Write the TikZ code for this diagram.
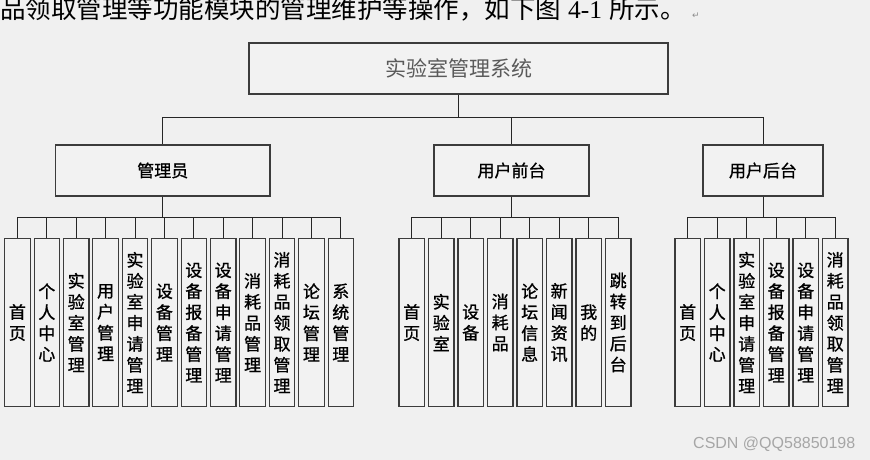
\documentclass[tikz,border=0pt]{standalone}
\usepackage{fontspec}
\setmainfont{Liberation Serif}
\newfontfamily\cjk{Noto Sans CJK SC}
\newfontfamily\cjkb[FakeBold=1]{Noto Sans CJK SC}
\newfontfamily\wmfont{Liberation Sans}
\newfontfamily\dvfont{DejaVu Sans}
\definecolor{bgc}{HTML}{F0F0F0}
\definecolor{boxc}{HTML}{3C3C3C}
\definecolor{fillc}{HTML}{F2F2F2}
\definecolor{titlec}{HTML}{5A5A5A}
\definecolor{wmc}{HTML}{A6A6A6}
\tikzset{
  boxstyle/.style={draw=boxc, line width=1.1pt, fill=fillc, inner sep=0pt},
  topbox/.style={boxstyle, minimum width=419pt, minimum height=51pt,
    font=\cjk\fontsize{21}{21}\selectfont, text=titlec},
  midbox/.style={boxstyle, minimum height=51pt,
    font=\cjkb\fontsize{17}{17}\selectfont},
  leafbox/.style={boxstyle, minimum width=25.5pt, minimum height=168pt,
    anchor=north, align=center, font=\cjkb\fontsize{17}{21}\selectfont},
  conn/.style={draw=black!85, line width=0.8pt}
}
\begin{document}
\begin{tikzpicture}[x=1pt,y=-1pt]
\useasboundingbox (0,0) rectangle (870,460);
\fill[bgc] (0,0) rectangle (870,460);
\clip (0,0) rectangle (870,460);

% cut-off text line above the figure
\node[anchor=base west, inner sep=0pt] (intro) at (0,19)
  {\cjk\fontsize{25.5}{26}\selectfont 品领取管理等功能模块的管理维护等操作，如下图\hspace{7pt}{\rmfamily 4-1}\hspace{7pt}所示。};
\node[anchor=base west, inner sep=0pt, text=black!45] (ret) at (692,19)
  {\dvfont\fontsize{9}{9}\selectfont ↵};

% top
\node[topbox] (top) at (458.5,68.5) {实验室管理系统};

% level 2
\node[midbox, minimum width=214.5pt] (adm) at (162.75,170.5) {管理员};
\node[midbox, minimum width=155pt]   (fro) at (511.5,170.5) {用户前台};
\node[midbox, minimum width=120pt]   (bak) at (763,170.5) {用户后台};

\coordinate (bus1) at (0,117.7);
\coordinate (bus2) at (0,217.3);

\draw[conn] (top.south) -- (top.south |- bus1);
\draw[conn] (adm.north) -- (adm.north |- bus1) -| (bak.north);
\draw[conn] (fro.north) -- (fro.north |- bus1);

% leaves: admin
\foreach \t [count=\i from 0] in {{首\\页},{个\\人\\中\\心},{实\\验\\室\\管\\理},{用\\户\\管\\理},{实\\验\\室\\申\\请\\管\\理},{设\\备\\管\\理},{设\\备\\报\\备\\管\\理},{设\\备\\申\\请\\管\\理},{消\\耗\\品\\管\\理},{消\\耗\\品\\领\\取\\管\\理},{论\\坛\\管\\理},{系\\统\\管\\理}}{
  \node[leafbox] (a\i) at ({17.4+29.4*\i},238) {\t};
  \draw[conn] (a\i.north) -- (a\i.north |- bus2);
}
% leaves: front
\foreach \t [count=\i from 0] in {{首\\页},{实\\验\\室},{设\\备},{消\\耗\\品},{论\\坛\\信\\息},{新\\闻\\资\\讯},{我\\的},{跳\\转\\到\\后\\台}}{
  \node[leafbox] (b\i) at ({411.7+29.5*\i},238) {\t};
  \draw[conn] (b\i.north) -- (b\i.north |- bus2);
}
% leaves: back
\foreach \t [count=\i from 0] in {{首\\页},{个\\人\\中\\心},{实\\验\\室\\申\\请\\管\\理},{设\\备\\报\\备\\管\\理},{设\\备\\申\\请\\管\\理},{消\\耗\\品\\领\\取\\管\\理}}{
  \node[leafbox] (c\i) at ({687.7+29.5*\i},238) {\t};
  \draw[conn] (c\i.north) -- (c\i.north |- bus2);
}

\draw[conn] (a0.north |- bus2) -- (a11.north |- bus2);
\draw[conn] (adm.south) -- (adm.south |- bus2);
\draw[conn] (b0.north |- bus2) -- (b7.north |- bus2);
\draw[conn] (fro.south) -- (fro.south |- bus2);
\draw[conn] (c0.north |- bus2) -- (c5.north |- bus2);
\draw[conn] (bak.south) -- (bak.south |- bus2);

% watermark
\node[anchor=base west, inner sep=0pt, text=wmc] (wm) at (693,448)
  {\wmfont\fontsize{16}{16}\selectfont CSDN @QQ58850198};
\end{tikzpicture}
\end{document}
